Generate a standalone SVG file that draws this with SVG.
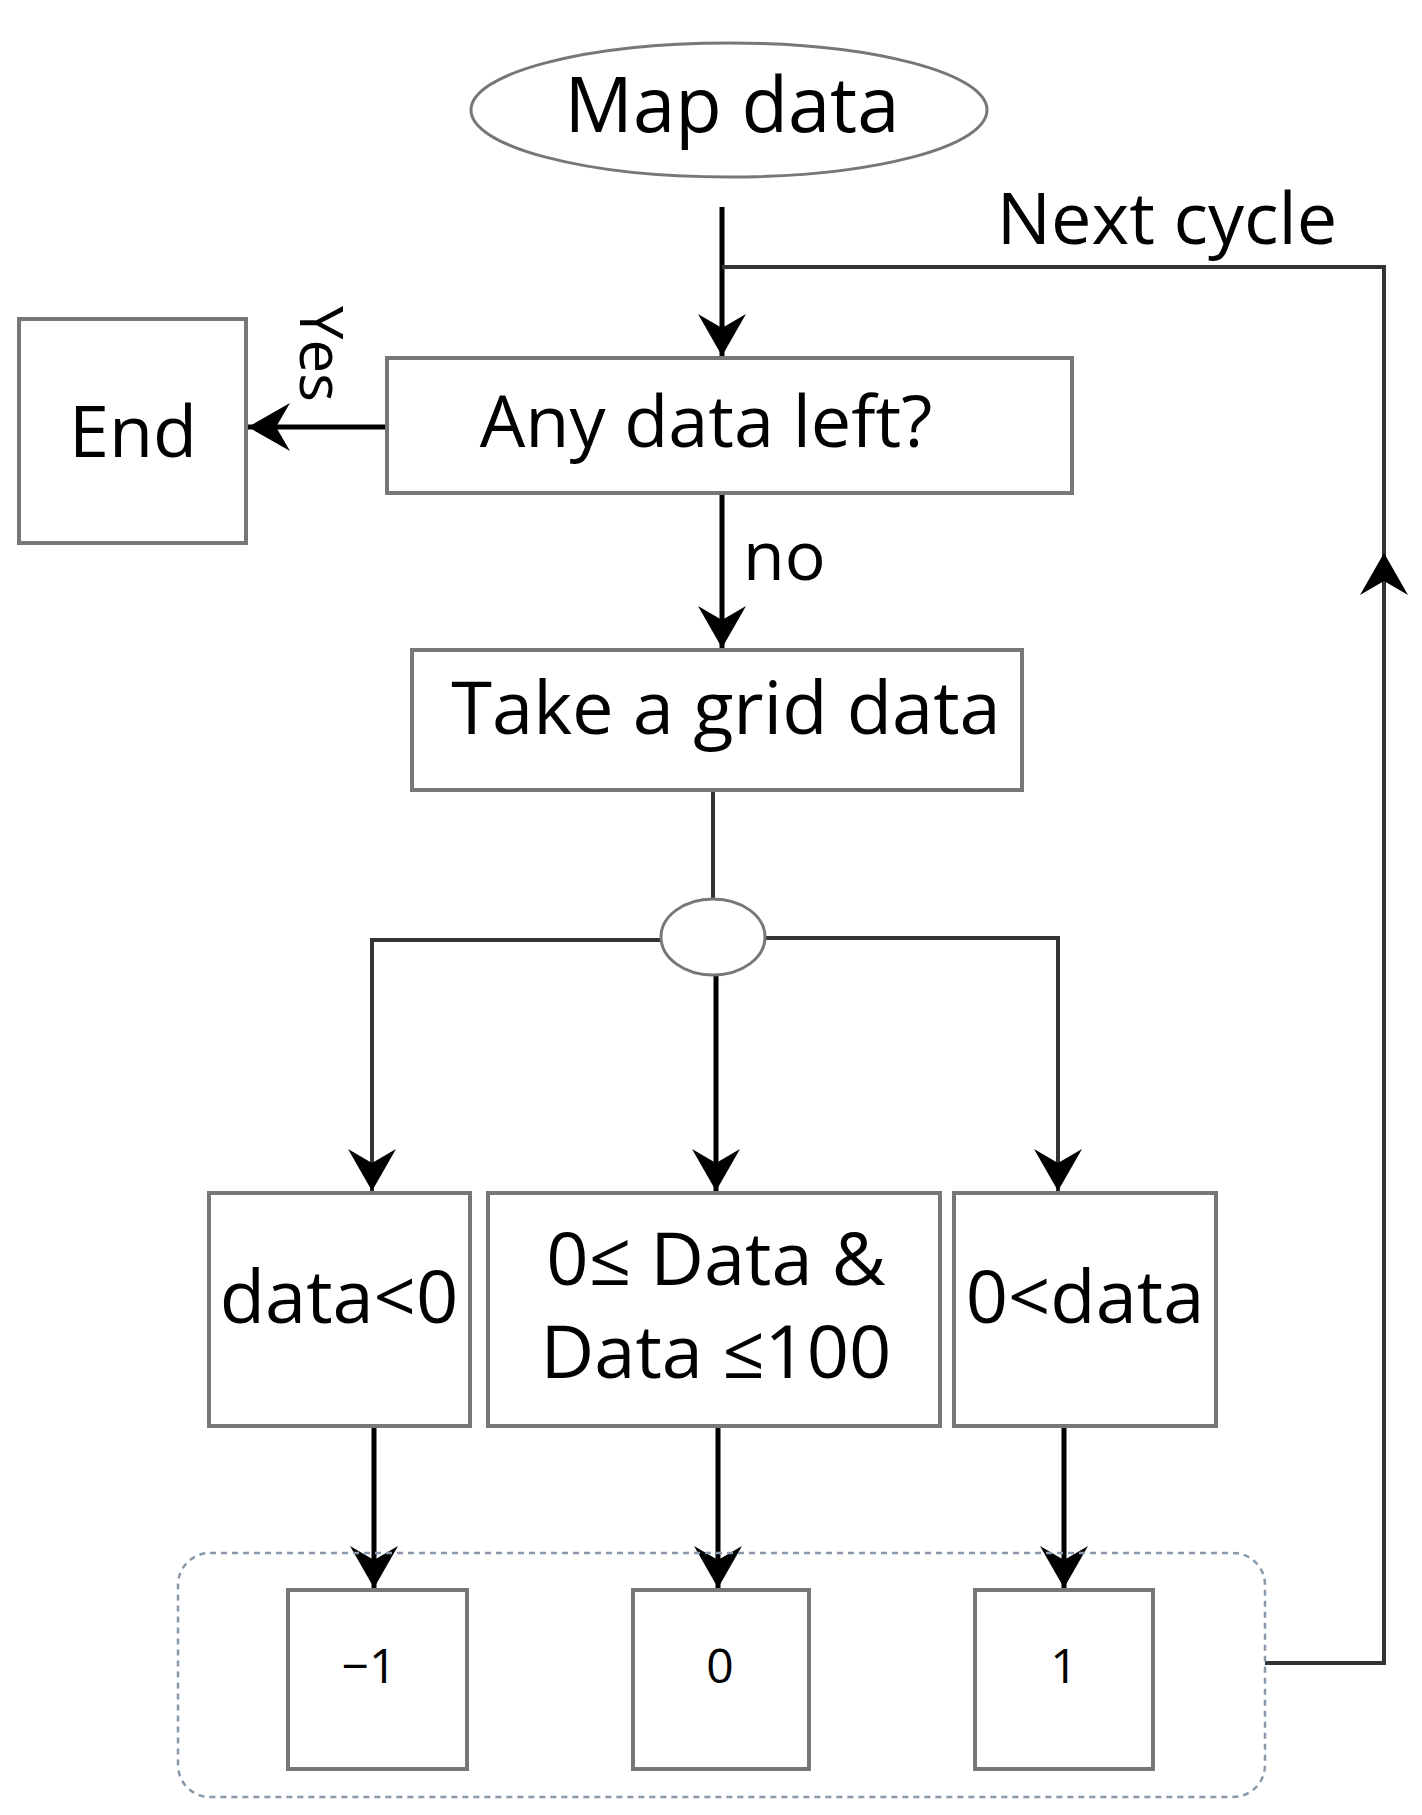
<svg xmlns="http://www.w3.org/2000/svg" width="1422" height="1815" viewBox="0 0 1422 1815">
<style>
.box{fill:#fff;stroke:#777;stroke-width:4}
.t{font-family:"Open Sans","Noto Sans",sans-serif;fill:#000;text-anchor:middle}
.s{font-family:"Open Sans","Noto Sans",sans-serif;fill:#000;text-anchor:start}
.c{fill:none;stroke:#000;stroke-width:5}
.g{fill:none;stroke:#333;stroke-width:4}
</style>
<defs>
<marker id="ah" markerUnits="userSpaceOnUse" markerWidth="60" markerHeight="60" viewBox="-50 -30 60 60" refX="0" refY="0" orient="auto">
<path d="M0,0 L-42,-24 L-28,0 L-42,24 Z" fill="#000"/>
</marker>
</defs>
<rect width="1422" height="1815" fill="#fff"/>
<g id="connectors">
<line class="c" x1="722" y1="207" x2="722" y2="356" marker-end="url(#ah)"/>
<polyline class="g" points="1265,1663 1384,1663 1384,267 722,267"/>
<line class="g" x1="1384" y1="620" x2="1384" y2="553" marker-end="url(#ah)"/>
<line class="c" x1="387" y1="427" x2="248" y2="427" marker-end="url(#ah)"/>
<line class="c" x1="722" y1="493" x2="722" y2="648" marker-end="url(#ah)"/>
<line class="g" x1="713" y1="790" x2="713" y2="900"/>
<polyline class="g" points="662,940 372,940 372,1191" marker-end="url(#ah)"/>
<line class="c" x1="716" y1="976" x2="716" y2="1191" marker-end="url(#ah)"/>
<polyline class="g" points="764,938 1058,938 1058,1191" marker-end="url(#ah)"/>
<line class="c" x1="374" y1="1426" x2="374" y2="1588" marker-end="url(#ah)"/>
<line class="c" x1="718" y1="1426" x2="718" y2="1588" marker-end="url(#ah)"/>
<line class="c" x1="1064" y1="1426" x2="1064" y2="1588" marker-end="url(#ah)"/>
<text class="t" x="1167" y="244" font-size="72">Next cycle</text>
<text class="t" x="0" y="0" font-size="60" transform="translate(300,354) rotate(90)">Yes</text>
<text class="s" x="743" y="580" font-size="68">no</text>
</g>
<g id="map"><ellipse cx="729" cy="110" rx="258" ry="67" fill="#fff" stroke="#777" stroke-width="3"/><text class="t" x="732" y="132" font-size="76">Map data</text></g>
<g id="any"><rect class="box" x="387" y="358" width="685" height="135"/><text class="t" x="706" y="447" font-size="72">Any data left?</text></g>
<g id="end"><rect class="box" x="19" y="319" width="227" height="224"/><text class="t" x="133" y="457" font-size="72">End</text></g>
<g id="take"><rect class="box" x="412" y="650" width="610" height="140"/><text class="t" x="726" y="734" font-size="74">Take a grid data</text></g>
<g id="split"><ellipse cx="713" cy="937" rx="52" ry="38" fill="#fff" stroke="#777" stroke-width="3"/></g>
<g id="lt"><rect class="box" x="209" y="1193" width="261" height="233"/><text class="t" x="339" y="1323" font-size="74">data&lt;0</text></g>
<g id="mid"><rect class="box" x="488" y="1193" width="452" height="233"/><text class="t" x="716" y="1285" font-size="74">0≤ Data &amp;</text><text class="t" x="716" y="1378" font-size="74">Data ≤100</text></g>
<g id="gt"><rect class="box" x="954" y="1193" width="262" height="233"/><text class="t" x="1085" y="1323" font-size="74">0&lt;data</text></g>
<g id="group"><rect x="178" y="1553" width="1087" height="244" rx="32" fill="none" stroke="#8899aa" stroke-width="2.5" stroke-dasharray="6,5"/></g>
<g id="vm1"><rect class="box" x="288" y="1590" width="179" height="179"/><text class="t" x="369" y="1683" font-size="48">−1</text></g>
<g id="v0"><rect class="box" x="633" y="1590" width="176" height="179"/><text class="t" x="720" y="1683" font-size="48">0</text></g>
<g id="v1"><rect class="box" x="975" y="1590" width="178" height="179"/><text class="t" x="1064" y="1683" font-size="48">1</text></g>
</svg>
